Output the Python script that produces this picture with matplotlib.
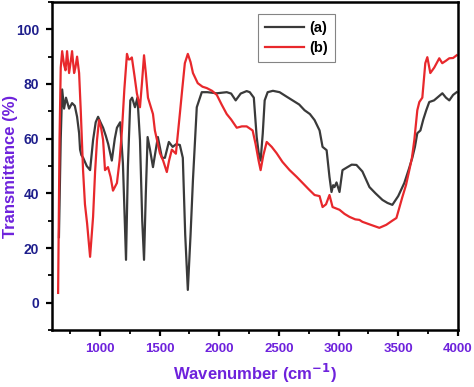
import matplotlib
matplotlib.use("Agg")
import matplotlib.pyplot as plt
from matplotlib.ticker import MultipleLocator

# FTIR spectra (wavenumber cm-1, transmittance %)
wn_a = [657, 672, 684, 700, 716, 742, 767, 790, 809, 826, 834, 845, 860,
        890, 918, 943, 965, 985, 1005, 1027, 1050, 1070, 1100, 1125, 1143,
        1170, 1193, 1205, 1219, 1235, 1255, 1270, 1294, 1315, 1336, 1355,
        1370, 1385, 1400, 1420, 1445, 1465, 1486, 1520, 1545, 1578, 1610,
        1640, 1670, 1695, 1715, 1737, 1760, 1780, 1812, 1854, 1900, 1980,
        2063, 2100, 2138, 2180, 2230, 2256, 2290, 2314, 2330, 2347, 2365,
        2381, 2406, 2450, 2506, 2560, 2615, 2670, 2715, 2760, 2799, 2841,
        2866, 2900, 2924, 2941, 2955, 2966, 2983, 3008, 3033, 3075, 3110,
        3150, 3200, 3259, 3310, 3368, 3410, 3451, 3500, 3551, 3590, 3618,
        3640, 3660, 3686, 3710, 3735, 3760, 3800, 3827, 3870, 3900, 3928,
        3960, 3990]
tr_a = [24, 60, 78, 71, 75, 71, 73, 72, 68, 62, 56, 54, 53,
        50, 48.5, 59.5, 66, 68, 66, 64, 61, 58, 52, 60, 64,
        66, 51, 35, 15.7, 50, 74, 75, 71.5, 75, 59.5, 30,
        15.7, 40, 60.6, 56, 49.6, 55, 60.6, 53, 53, 58.8, 57,
        58, 57.7, 53, 25, 4.7, 25, 45, 71.5, 77, 77, 76.6,
        77, 76.5, 74, 76.5, 77.4, 77, 75, 60.6, 55, 52, 62,
        74, 77, 77.5, 77, 75.5, 74, 72.5, 70.4, 69, 66.8, 63,
        57, 55.8, 46, 40.5, 43, 42.3, 44, 40.5, 48.5, 49.6, 50.5,
        50.4, 48, 42.3, 40, 37.6, 36.5, 35.8, 39, 43.8, 49, 53,
        57, 62, 63, 67, 70.4, 73.4, 74, 75, 76.6, 75, 74,
        76, 77]

wn_b = [650, 662, 672, 684, 700, 712, 725, 742, 755, 767, 784, 795, 809,
        826, 840, 859, 875, 893, 918, 943, 960, 976, 993, 1010, 1027, 1043,
        1068, 1090, 1110, 1143, 1165, 1185, 1205, 1227, 1240, 1252, 1268,
        1290, 1310, 1336, 1352, 1370, 1385, 1403, 1445, 1461, 1503, 1530,
        1561, 1580, 1603, 1637, 1670, 1690, 1712, 1737, 1760, 1780, 1820,
        1860, 1896, 1940, 1980, 2020, 2063, 2100, 2147, 2190, 2230, 2280,
        2305, 2330, 2347, 2370, 2398, 2440, 2481, 2530, 2590, 2650, 2699,
        2750, 2799, 2841, 2866, 2895, 2924, 2950, 3008, 3050, 3092, 3140,
        3175, 3200, 3270, 3342, 3400, 3450, 3485, 3535, 3565, 3593, 3615,
        3635, 3660, 3677, 3702, 3727, 3744, 3769, 3802, 3844, 3869, 3900,
        3928, 3960, 3990]
tr_b = [3.6, 60, 86, 92, 87, 85, 92, 84, 88, 92, 84, 86, 90,
        84, 70, 48.5, 36, 29, 16.8, 31.4, 48, 59.5, 66.8, 64, 59.5, 48.5,
        49.6, 46, 41, 43.8, 52, 63, 78, 91, 89, 89, 89.7,
        83, 76.6, 71.5, 80, 90.5, 84, 75, 69, 63, 54.7, 52,
        47.8, 52, 56, 54.5, 69, 78, 87.6, 91, 88, 84, 80.3,
        79, 78.5, 77.5, 76, 72.5, 69, 67, 64, 64.5, 64.5, 63,
        58, 52, 48.5, 54, 58.8, 57, 54.7, 51.5, 48.5, 46, 43.8,
        41.5, 39.4, 39, 35, 36, 39.4, 35, 34, 32.5, 31.4, 30.5,
        30.3, 29.6, 28.5, 27.4, 28.5, 30, 31, 38.7, 43, 48.5, 53,
        59.5, 70.4, 73.4, 75, 87.6, 89.8, 84, 86, 89.4, 87.6, 88.5,
        89.4, 89.5, 90.5]

labels = ["(a)", "(b)"]
colors = ["#3a3a3a", "#e8282c"]

navy = "#1e1e8c"
purple = "#6e22dc"

plt.rcParams["font.family"] = ["Liberation Sans", "DejaVu Sans"]
plt.rcParams["font.weight"] = "bold"

fig = plt.figure(figsize=(4.74, 3.87), dpi=100)
ax = fig.add_axes([0.110, 0.147, 0.856, 0.848])

ax.plot(wn_a, tr_a, color=colors[0], lw=1.6, label=labels[0])
ax.plot(wn_b, tr_b, color=colors[1], lw=1.6, label=labels[1])

ax.set_xlim(600, 4000)
ax.set_ylim(-10, 110)
ax.xaxis.set_minor_locator(MultipleLocator(250))
ax.yaxis.set_minor_locator(MultipleLocator(10))
ax.set_xticks([1000, 1500, 2000, 2500, 3000, 3500, 4000])
ax.set_yticks([0, 20, 40, 60, 80, 100])

for s in ax.spines.values():
    s.set_linewidth(1.8)
ax.tick_params(which="major", length=4.5, width=1.6, direction="out")
ax.tick_params(which="minor", length=3, width=1.3, direction="out")
ax.tick_params(axis="x", colors="black", labelcolor=purple, labelsize=9.5, pad=5)
ax.tick_params(axis="y", colors="black", labelcolor=navy, labelsize=10, pad=5)
for t in ax.get_xticklabels() + ax.get_yticklabels():
    t.set_fontweight("bold")

ax.set_xlabel("Wavenumber (cm$^{\\mathbf{-1}}$)", color=purple,
              fontsize=12, fontweight="bold", labelpad=5)
ax.set_ylabel("Transmittance (%)", color=purple, fontsize=12,
              fontweight="bold", labelpad=4)
ax.yaxis.set_label_coords(-0.085, 0.5)

leg = ax.legend(loc="upper left", bbox_to_anchor=(0.508, 0.963),
                fancybox=False, edgecolor="#666666", fontsize=10.5,
                handlelength=2.7, borderpad=0.45, labelspacing=0.45,
                handletextpad=0.35, borderaxespad=0)
leg.get_frame().set_linewidth(0.8)

fig.savefig("out.png", dpi=100)
